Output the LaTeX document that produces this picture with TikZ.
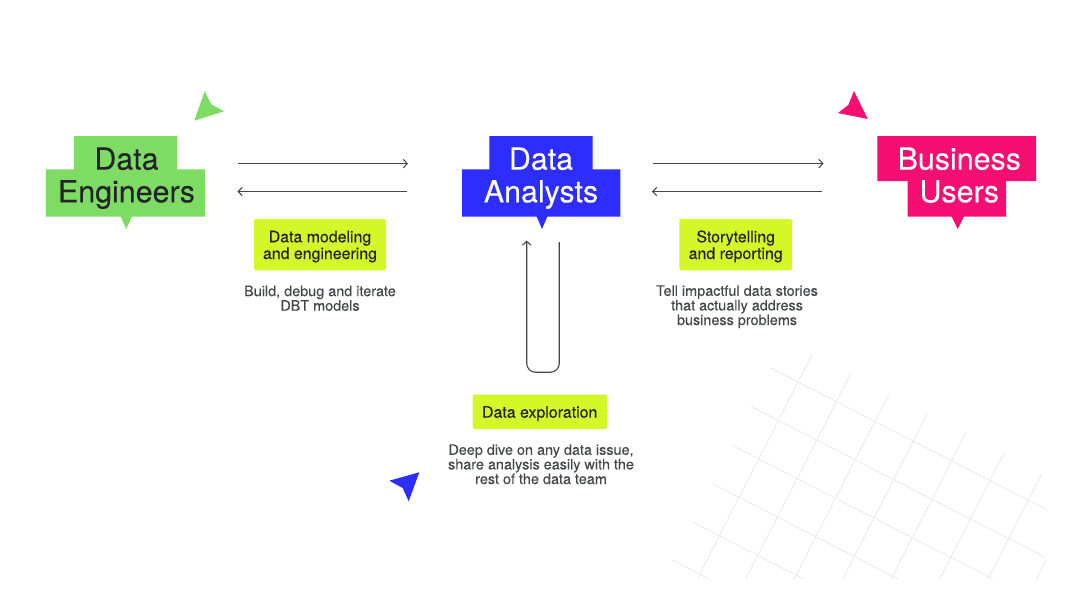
\documentclass[tikz,border=0pt]{standalone}
\usepackage{fontspec}
\setmainfont{TeX Gyre Heros}[FakeBold=0.15]
\usetikzlibrary{arrows.meta}
\definecolor{cgreen}{HTML}{7EDB64}
\definecolor{cblue}{HTML}{2D2DFF}
\definecolor{cpink}{HTML}{F50F73}
\definecolor{clime}{HTML}{D4F72A}
\definecolor{cdark}{HTML}{222428}
\definecolor{cgray}{HTML}{45474B}
\definecolor{cgrid}{HTML}{EBEBEB}
\tikzset{
  title/.style={anchor=base,align=center,inner sep=0pt,font=\fontsize{30.4}{32.7}\selectfont},
  tag/.style={fill=clime,rounded corners=2pt},
  tagtext/.style={anchor=base,align=center,inner sep=0pt,text=cdark,font=\fontsize{15.9}{16.7}\selectfont},
  desc/.style={anchor=base,align=center,inner sep=0pt,text=cgray,font=\fontsize{14.4}{14.6}\selectfont},
  conn/.style={draw=cgray,line width=1.15pt,-{Straight Barb[length=4pt,width=8.5pt,line width=1.05pt]}},
  gridline/.style={draw=cgrid,line width=0.8pt}
}
\begin{document}
\begin{tikzpicture}[x=1pt,y=-1pt]
\useasboundingbox (0,0) rectangle (1080,608);
\fill[white] (0,0) rectangle (1080,608);
% background grid
\begin{scope}
\clip (660,340) rectangle (1045.3,578.3);
\begin{scope}[shift={(660,340)},x=0.3333pt,y=-0.3333pt]
\foreach \i in {0,...,7} {
  \draw[gridline] ({457+115*\i},{42+59.5*\i}) -- ++({-344*1.2},{673*1.2});
}
\foreach \i in {0,...,5} {
  \draw[gridline] ({332-59.2*\i},{84+115.2*\i}) -- ++(1200,{1200*0.5127});
}
\end{scope}
\end{scope}
% pointers
\fill[cgreen] (204.7,91.3) -- (211.3,104.3) -- (224,111.3) -- (194.3,120.7) -- cycle;
\fill[cpink] (854,91) -- (867.7,119) -- (838,113) -- (848.3,105) -- cycle;
\fill[cblue] (419.3,472.3) -- (408.7,501.3) -- (402.7,488) -- (389.3,480.7) -- cycle;
% speech boxes
\fill[cgreen] (74,136) -- (177,136) -- (177,169.3) -- (205,169.3) -- (205,216.7) -- (132,216.7) -- (126.3,229) -- (120.7,216.7) -- (46,216.7) -- (46,169.3) -- (74,169.3) -- cycle;
\node[title,text=cdark] (engineers) at (126.5,202.3) {Data\\Engineers};
\fill[cblue] (489.3,136) -- (592.7,136) -- (592.7,169.3) -- (620.3,169.3) -- (620.3,216.7) -- (547.3,216.7) -- (542,229) -- (536.7,216.7) -- (462,216.7) -- (462,169.3) -- (489.3,169.3) -- cycle;
\node[title,text=white] (analysts) at (541,202.3) {Data\\Analysts};
\fill[cpink] (877.3,136) -- (1036,136) -- (1036,181) -- (1006,181) -- (1006,216.7) -- (964,216.7) -- (957.7,229) -- (951.7,216.7) -- (907.7,216.7) -- (907.7,181) -- (877.3,181) -- cycle;
\node[title,text=white] (users) at (959.3,202.3) {Business\\Users};
% tags
\fill[tag] (254,219) rectangle (386,270.3);
\node[tagtext] (modeling) at (320,259) {Data modeling\\and engineering};
\fill[tag] (679.3,219) rectangle (792,270.3);
\node[tagtext] (story) at (735.7,259) {Storytelling\\and reporting};
\fill[tag] (472.7,394.7) rectangle (607,429);
\node[tagtext] (explore) at (539.7,417.7) {Data exploration};
% descriptions
\node[desc] (d1) at (320,310.7) {Build, debug and iterate\\DBT models};
\node[desc] (d2) at (737,325) {Tell impactful data stories\\that actually address\\business problems};
\node[desc] (d3) at (541,484) {Deep dive on any data issue,\\share analysis easily with the\\rest of the data team};
% connectors
\coordinate (a1) at (238.3,163.6);
\coordinate (a2) at (408,163.6);
\coordinate (b1) at (407,191.5);
\coordinate (b2) at (237.5,191.5);
\coordinate (c1) at (653,163.6);
\coordinate (c2) at (823.5,163.6);
\coordinate (e1) at (821.7,191.5);
\coordinate (e2) at (652,191.5);
\coordinate (f1) at (559.3,242);
\coordinate (f2) at (559.3,372.3);
\coordinate (f3) at (526.7,372.3);
\coordinate (f4) at (526.7,240.5);
\draw[conn] (a1) -- (a2);
\draw[conn] (b1) -- (b2);
\draw[conn] (c1) -- (c2);
\draw[conn] (e1) -- (e2);
\draw[conn,rounded corners=9pt] (f1) -- (f2) -- (f3) -- (f4);
\end{tikzpicture}
\end{document}
